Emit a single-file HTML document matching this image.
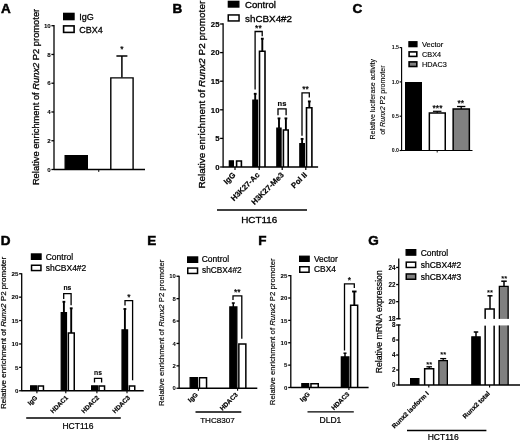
<!DOCTYPE html>
<html><head><meta charset="utf-8"><title>Figure</title>
<style>
html,body{margin:0;padding:0;background:#fff;}
svg{display:block;font-family:"Liberation Sans", sans-serif;}
text{fill:#000;stroke:#000;}
</style></head><body>
<svg width="520" height="441" viewBox="0 0 520 441">
<rect x="0" y="0" width="520" height="441" fill="#fff"/>
<text x="0.9" y="12.9" font-size="13.5" font-weight="bold" stroke-width="0.5" text-anchor="start">A</text>
<text x="38.7" y="185.1" font-size="9.34" stroke-width="0.29" text-anchor="start" transform="rotate(-90 38.7 185.1)">Relative enrichment of <tspan font-style="italic">Runx2</tspan> P2 promoter</text>
<line x1="54" y1="25" x2="54" y2="170.05" stroke="#000" stroke-width="1.3"/>
<line x1="51.4" y1="169.5" x2="54" y2="169.5" stroke="#000" stroke-width="1.3"/>
<text x="50.8" y="171.73" font-size="6.2" font-weight="bold" stroke-width="0.05" text-anchor="end">0</text>
<line x1="51.4" y1="140.74" x2="54" y2="140.74" stroke="#000" stroke-width="1.3"/>
<text x="50.8" y="142.97" font-size="6.2" font-weight="bold" stroke-width="0.05" text-anchor="end">2</text>
<line x1="51.4" y1="111.98" x2="54" y2="111.98" stroke="#000" stroke-width="1.3"/>
<text x="50.8" y="114.21" font-size="6.2" font-weight="bold" stroke-width="0.05" text-anchor="end">4</text>
<line x1="51.4" y1="83.22" x2="54" y2="83.22" stroke="#000" stroke-width="1.3"/>
<text x="50.8" y="85.45" font-size="6.2" font-weight="bold" stroke-width="0.05" text-anchor="end">6</text>
<line x1="51.4" y1="54.46" x2="54" y2="54.46" stroke="#000" stroke-width="1.3"/>
<text x="50.8" y="56.69" font-size="6.2" font-weight="bold" stroke-width="0.05" text-anchor="end">8</text>
<line x1="51.4" y1="25.7" x2="54" y2="25.7" stroke="#000" stroke-width="1.3"/>
<text x="50.8" y="27.93" font-size="6.2" font-weight="bold" stroke-width="0.05" text-anchor="end">10</text>
<rect x="63.65" y="13.35" width="10.4" height="6.3" fill="#000" stroke="#000" stroke-width="1.3"/>
<text x="79.2" y="19.8" font-size="9" stroke-width="0.26" text-anchor="start">IgG</text>
<rect x="63.6" y="25.9" width="10.5" height="6.5" fill="#fff" stroke="#000" stroke-width="1.6"/>
<text x="79.2" y="32.9" font-size="9" stroke-width="0.26" text-anchor="start">CBX4</text>
<path d="M65.15 169.5V155.77H87.35V169.5" fill="#000" stroke="#000" stroke-width="1.3"/>
<line x1="121.9" y1="56" x2="121.9" y2="77.5" stroke="#000" stroke-width="1.5"/>
<line x1="116.4" y1="56" x2="127.4" y2="56" stroke="#000" stroke-width="1.5"/>
<path d="M110.8 169.5V77.9H133.1V169.5" fill="#fff" stroke="#000" stroke-width="1.4"/>
<text x="121.9" y="51.92" font-size="8.5" stroke-width="0.22" text-anchor="middle">*</text>
<line x1="54" y1="169.5" x2="145" y2="169.5" stroke="#000" stroke-width="1.3"/>
<line x1="98.75" y1="169.5" x2="98.75" y2="171.9" stroke="#000" stroke-width="1"/>
<text x="172.6" y="13" font-size="13.5" font-weight="bold" stroke-width="0.5" text-anchor="start">B</text>
<text x="205.3" y="188.6" font-size="9.95" stroke-width="0.32" text-anchor="start" transform="rotate(-90 205.3 188.6)">Relative enrichment of <tspan font-style="italic">Runx2</tspan> P2 promoter</text>
<line x1="223.1" y1="23.3" x2="223.1" y2="167.55" stroke="#000" stroke-width="1.3"/>
<line x1="220.1" y1="167" x2="223.1" y2="167" stroke="#000" stroke-width="1.3"/>
<text x="219.5" y="169.81" font-size="7.8" font-weight="bold" stroke-width="0.17" text-anchor="end">0</text>
<line x1="220.1" y1="138.4" x2="223.1" y2="138.4" stroke="#000" stroke-width="1.3"/>
<text x="219.5" y="141.21" font-size="7.8" font-weight="bold" stroke-width="0.17" text-anchor="end">5</text>
<line x1="220.1" y1="109.8" x2="223.1" y2="109.8" stroke="#000" stroke-width="1.3"/>
<text x="219.5" y="112.61" font-size="7.8" font-weight="bold" stroke-width="0.17" text-anchor="end">10</text>
<line x1="220.1" y1="81.2" x2="223.1" y2="81.2" stroke="#000" stroke-width="1.3"/>
<text x="219.5" y="84.01" font-size="7.8" font-weight="bold" stroke-width="0.17" text-anchor="end">15</text>
<line x1="220.1" y1="52.6" x2="223.1" y2="52.6" stroke="#000" stroke-width="1.3"/>
<text x="219.5" y="55.41" font-size="7.8" font-weight="bold" stroke-width="0.17" text-anchor="end">20</text>
<line x1="220.1" y1="24" x2="223.1" y2="24" stroke="#000" stroke-width="1.3"/>
<text x="219.5" y="26.81" font-size="7.8" font-weight="bold" stroke-width="0.17" text-anchor="end">25</text>
<rect x="228.35" y="1.35" width="10.5" height="5.7" fill="#000" stroke="#000" stroke-width="1.3"/>
<text x="245" y="7.6" font-size="9.6" stroke-width="0.31" text-anchor="start">Control</text>
<rect x="228.25" y="14.95" width="10.8" height="6" fill="#fff" stroke="#000" stroke-width="1.5"/>
<text x="245" y="21.6" font-size="9.85" stroke-width="0.32" text-anchor="start">shCBX4#2</text>
<path d="M229.35 167V160.85H233.35V167" fill="#000" stroke="#000" stroke-width="1.3"/>
<path d="M236.6 167V161H241.4V167" fill="#fff" stroke="#000" stroke-width="1.6"/>
<line x1="255.2" y1="93.8" x2="255.2" y2="100" stroke="#000" stroke-width="1.9"/>
<line x1="253.8" y1="93.8" x2="256.6" y2="93.8" stroke="#000" stroke-width="1.9"/>
<path d="M252.85 167V100.25H257.45V167" fill="#000" stroke="#000" stroke-width="1.3"/>
<line x1="262.3" y1="38.7" x2="262.3" y2="51" stroke="#000" stroke-width="1.9"/>
<line x1="260.9" y1="38.7" x2="263.7" y2="38.7" stroke="#000" stroke-width="1.9"/>
<path d="M259.5 167V51.3H265V167" fill="#fff" stroke="#000" stroke-width="1.6"/>
<polyline points="255.1,89.5 255.1,31.5 262.2,31.5 262.2,36.3" fill="none" stroke="#000" stroke-width="1.3"/>
<text x="258.4" y="31.42" font-size="8.5" stroke-width="0.22" text-anchor="middle">**</text>
<line x1="279" y1="118.4" x2="279" y2="128" stroke="#000" stroke-width="1.9"/>
<line x1="277.6" y1="118.4" x2="280.4" y2="118.4" stroke="#000" stroke-width="1.9"/>
<path d="M276.85 167V128.15H281.05V167" fill="#000" stroke="#000" stroke-width="1.3"/>
<line x1="285.9" y1="118.4" x2="285.9" y2="130" stroke="#000" stroke-width="1.9"/>
<line x1="284.5" y1="118.4" x2="287.3" y2="118.4" stroke="#000" stroke-width="1.9"/>
<path d="M283.4 167V130H288.2V167" fill="#fff" stroke="#000" stroke-width="1.6"/>
<polyline points="278,115.3 278,108.9 286.1,108.9 286.1,115.3" fill="none" stroke="#000" stroke-width="1.3"/>
<text x="282" y="105.7" font-size="7.5" font-weight="bold" stroke-width="0.15" text-anchor="middle">ns</text>
<line x1="302.1" y1="138.9" x2="302.1" y2="143" stroke="#000" stroke-width="1.9"/>
<line x1="300.7" y1="138.9" x2="303.5" y2="138.9" stroke="#000" stroke-width="1.9"/>
<path d="M299.85 167V143.55H304.35V167" fill="#000" stroke="#000" stroke-width="1.3"/>
<line x1="309.3" y1="101.4" x2="309.3" y2="108" stroke="#000" stroke-width="1.9"/>
<line x1="307.9" y1="101.4" x2="310.7" y2="101.4" stroke="#000" stroke-width="1.9"/>
<path d="M306.5 167V107.8H311.9V167" fill="#fff" stroke="#000" stroke-width="1.6"/>
<polyline points="302,135.8 302,92.8 309.3,92.8 309.3,97.6" fill="none" stroke="#000" stroke-width="1.3"/>
<text x="305.6" y="92.02" font-size="8.5" stroke-width="0.22" text-anchor="middle">**</text>
<text x="236" y="175.5" font-size="7.8" font-weight="bold" stroke-width="0.17" text-anchor="end" transform="rotate(-45 236 175.5)" style="stroke-width:0.2px">IgG</text>
<text x="260" y="175.5" font-size="7.8" font-weight="bold" stroke-width="0.17" text-anchor="end" transform="rotate(-45 260 175.5)" style="stroke-width:0.2px">H3K27-Ac</text>
<text x="284.3" y="175.5" font-size="7.8" font-weight="bold" stroke-width="0.17" text-anchor="end" transform="rotate(-45 284.3 175.5)" style="stroke-width:0.2px">H3K27-Me3</text>
<text x="307.5" y="175.5" font-size="7.8" font-weight="bold" stroke-width="0.17" text-anchor="end" transform="rotate(-45 307.5 175.5)" style="stroke-width:0.2px">Pol II</text>
<line x1="217" y1="210" x2="307" y2="210" stroke="#000" stroke-width="1.3"/>
<text x="259.2" y="222.7" font-size="9.9" stroke-width="0.32" text-anchor="middle">HCT116</text>
<line x1="223.1" y1="167" x2="318.1" y2="167" stroke="#000" stroke-width="1.3"/>
<line x1="235" y1="167" x2="235" y2="170" stroke="#000" stroke-width="1.2"/>
<line x1="259.2" y1="167" x2="259.2" y2="170" stroke="#000" stroke-width="1.2"/>
<line x1="282.2" y1="167" x2="282.2" y2="170" stroke="#000" stroke-width="1.2"/>
<line x1="305.8" y1="167" x2="305.8" y2="170" stroke="#000" stroke-width="1.2"/>
<text x="352.5" y="13.2" font-size="13.5" font-weight="bold" stroke-width="0.5" text-anchor="start">C</text>
<text x="375.2" y="139.5" font-size="7" stroke-width="0.11" text-anchor="start" transform="rotate(-90 375.2 139.5)">Relative luciferase activity</text>
<text x="384.7" y="134.8" font-size="7.1" stroke-width="0.12" text-anchor="start" transform="rotate(-90 384.7 134.8)">of <tspan font-style="italic">Runx2</tspan> P2 promoter</text>
<line x1="401.6" y1="47.3" x2="401.6" y2="151" stroke="#000" stroke-width="1.15"/>
<line x1="399.6" y1="150.5" x2="401.6" y2="150.5" stroke="#000" stroke-width="1.15"/>
<text x="399" y="152.37" font-size="5.2" font-weight="bold" stroke-width="0" text-anchor="end">0.0</text>
<line x1="399.6" y1="116.2" x2="401.6" y2="116.2" stroke="#000" stroke-width="1.15"/>
<text x="399" y="118.07" font-size="5.2" font-weight="bold" stroke-width="0" text-anchor="end">0.5</text>
<line x1="399.6" y1="81.9" x2="401.6" y2="81.9" stroke="#000" stroke-width="1.15"/>
<text x="399" y="83.77" font-size="5.2" font-weight="bold" stroke-width="0" text-anchor="end">1.0</text>
<line x1="399.6" y1="47.6" x2="401.6" y2="47.6" stroke="#000" stroke-width="1.15"/>
<text x="399" y="49.47" font-size="5.2" font-weight="bold" stroke-width="0" text-anchor="end">1.5</text>
<rect x="408.95" y="41.75" width="8" height="4.9" fill="#000" stroke="#000" stroke-width="1.3"/>
<text x="422" y="46.8" font-size="7.5" stroke-width="0.15" text-anchor="start">Vector</text>
<rect x="409.1" y="51.9" width="7.7" height="4.5" fill="#fff" stroke="#000" stroke-width="1.6"/>
<text x="422" y="56.6" font-size="7.3" stroke-width="0.13" text-anchor="start">CBX4</text>
<rect x="409.1" y="61.9" width="7.7" height="4.6" fill="#808080" stroke="#000" stroke-width="1.6"/>
<text x="422" y="66.8" font-size="7.3" stroke-width="0.13" text-anchor="start">HDAC3</text>
<path d="M405.65 150.5V82.65H421.35V150.5" fill="#000" stroke="#000" stroke-width="1.3"/>
<line x1="437.2" y1="111.3" x2="437.2" y2="113" stroke="#000" stroke-width="1.2"/>
<line x1="432.95" y1="111.3" x2="441.45" y2="111.3" stroke="#000" stroke-width="1.2"/>
<path d="M429.35 150.5V112.95H445.25V150.5" fill="#fff" stroke="#000" stroke-width="1.5"/>
<line x1="461.2" y1="106.5" x2="461.2" y2="109" stroke="#000" stroke-width="1.3"/>
<line x1="457.05" y1="106.5" x2="465.35" y2="106.5" stroke="#000" stroke-width="1.3"/>
<path d="M453.15 150.5V108.95H469.35V150.5" fill="#808080" stroke="#000" stroke-width="1.5"/>
<text x="437.5" y="111.42" font-size="8.5" stroke-width="0.22" text-anchor="middle">***</text>
<text x="460.8" y="106.42" font-size="8.5" stroke-width="0.22" text-anchor="middle">**</text>
<line x1="401.6" y1="150.5" x2="472.5" y2="150.5" stroke="#000" stroke-width="1.15"/>
<line x1="437.2" y1="150.5" x2="437.2" y2="152.5" stroke="#000" stroke-width="0.9"/>
<text x="0.8" y="244.7" font-size="13.5" font-weight="bold" stroke-width="0.5" text-anchor="start">D</text>
<text x="6.4" y="409" font-size="8.06" stroke-width="0.19" text-anchor="start" transform="rotate(-90 6.4 409)">Relative enrichment of <tspan font-style="italic">Runx2</tspan> P2 promoter</text>
<line x1="21.7" y1="273.2" x2="21.7" y2="391.25" stroke="#000" stroke-width="1.3"/>
<line x1="19.1" y1="390.75" x2="21.7" y2="390.75" stroke="#000" stroke-width="1.3"/>
<text x="18.5" y="392.98" font-size="6.2" font-weight="bold" stroke-width="0.05" text-anchor="end">0</text>
<line x1="19.1" y1="367.35" x2="21.7" y2="367.35" stroke="#000" stroke-width="1.3"/>
<text x="18.5" y="369.58" font-size="6.2" font-weight="bold" stroke-width="0.05" text-anchor="end">5</text>
<line x1="19.1" y1="343.95" x2="21.7" y2="343.95" stroke="#000" stroke-width="1.3"/>
<text x="18.5" y="346.18" font-size="6.2" font-weight="bold" stroke-width="0.05" text-anchor="end">10</text>
<line x1="19.1" y1="320.55" x2="21.7" y2="320.55" stroke="#000" stroke-width="1.3"/>
<text x="18.5" y="322.78" font-size="6.2" font-weight="bold" stroke-width="0.05" text-anchor="end">15</text>
<line x1="19.1" y1="297.15" x2="21.7" y2="297.15" stroke="#000" stroke-width="1.3"/>
<text x="18.5" y="299.38" font-size="6.2" font-weight="bold" stroke-width="0.05" text-anchor="end">20</text>
<line x1="19.1" y1="273.75" x2="21.7" y2="273.75" stroke="#000" stroke-width="1.3"/>
<text x="18.5" y="275.98" font-size="6.2" font-weight="bold" stroke-width="0.05" text-anchor="end">25</text>
<rect x="31.45" y="253.95" width="9.6" height="5.4" fill="#000" stroke="#000" stroke-width="1.3"/>
<text x="45.7" y="259.8" font-size="8.5" stroke-width="0.22" text-anchor="start">Control</text>
<rect x="31.55" y="265.25" width="9.4" height="5.3" fill="#fff" stroke="#000" stroke-width="1.5"/>
<text x="45.7" y="271.1" font-size="8.5" stroke-width="0.22" text-anchor="start">shCBX4#2</text>
<path d="M30.65 390.75V385.78H36.55V390.75" fill="#000" stroke="#000" stroke-width="1.3"/>
<path d="M38.15 390.75V385.88H43.45V390.75" fill="#fff" stroke="#000" stroke-width="1.5"/>
<line x1="63.9" y1="301.8" x2="63.9" y2="313" stroke="#000" stroke-width="1.9"/>
<line x1="62.5" y1="301.8" x2="65.3" y2="301.8" stroke="#000" stroke-width="1.9"/>
<path d="M61.25 390.75V312.65H66.45V390.75" fill="#000" stroke="#000" stroke-width="1.3"/>
<line x1="71.2" y1="308.3" x2="71.2" y2="333" stroke="#000" stroke-width="1.9"/>
<line x1="69.8" y1="308.3" x2="72.6" y2="308.3" stroke="#000" stroke-width="1.9"/>
<path d="M68.35 390.75V333.05H74.25V390.75" fill="#fff" stroke="#000" stroke-width="1.5"/>
<polyline points="63.7,299 63.7,293.6 71.1,293.6 71.1,305.2" fill="none" stroke="#000" stroke-width="1.3"/>
<text x="67.4" y="289.7" font-size="6.8" font-weight="bold" stroke-width="0.1" text-anchor="middle">ns</text>
<path d="M91.65 390.75V385.78H97.45V390.75" fill="#000" stroke="#000" stroke-width="1.3"/>
<path d="M99.05 390.75V385.88H104.55V390.75" fill="#fff" stroke="#000" stroke-width="1.5"/>
<polyline points="94.5,382.4 94.5,378.4 101.6,378.4 101.6,382.4" fill="none" stroke="#000" stroke-width="1.3"/>
<text x="98" y="375.1" font-size="6.8" font-weight="bold" stroke-width="0.1" text-anchor="middle">ns</text>
<line x1="124.9" y1="309" x2="124.9" y2="330" stroke="#000" stroke-width="1.9"/>
<line x1="123.5" y1="309" x2="126.3" y2="309" stroke="#000" stroke-width="1.9"/>
<path d="M122.05 390.75V329.85H127.55V390.75" fill="#000" stroke="#000" stroke-width="1.3"/>
<path d="M129.35 390.75V385.88H134.75V390.75" fill="#fff" stroke="#000" stroke-width="1.5"/>
<polyline points="125,305.5 125,300.6 132.6,300.6 132.6,380.3" fill="none" stroke="#000" stroke-width="1.3"/>
<text x="128.8" y="300.02" font-size="8.5" stroke-width="0.22" text-anchor="middle">*</text>
<text x="37.8" y="398.2" font-size="6.4" font-weight="bold" stroke-width="0.07" text-anchor="end" transform="rotate(-45 37.8 398.2)" style="stroke-width:0.2px">IgG</text>
<text x="68.5" y="398.2" font-size="6.4" font-weight="bold" stroke-width="0.07" text-anchor="end" transform="rotate(-45 68.5 398.2)" style="stroke-width:0.2px">HDAC1</text>
<text x="99.5" y="398.2" font-size="6.4" font-weight="bold" stroke-width="0.07" text-anchor="end" transform="rotate(-45 99.5 398.2)" style="stroke-width:0.2px">HDAC2</text>
<text x="130.5" y="398.2" font-size="6.4" font-weight="bold" stroke-width="0.07" text-anchor="end" transform="rotate(-45 130.5 398.2)" style="stroke-width:0.2px">HDAC3</text>
<line x1="26.2" y1="418" x2="120.8" y2="418" stroke="#000" stroke-width="1.3"/>
<text x="78" y="428.8" font-size="8.5" stroke-width="0.22" text-anchor="middle">HCT116</text>
<line x1="21.8" y1="390.75" x2="143.75" y2="390.75" stroke="#000" stroke-width="1.3"/>
<line x1="36.9" y1="390.75" x2="36.9" y2="393.35" stroke="#000" stroke-width="1.1"/>
<line x1="65.8" y1="390.75" x2="65.8" y2="393.35" stroke="#000" stroke-width="1.1"/>
<line x1="96.9" y1="390.75" x2="96.9" y2="393.35" stroke="#000" stroke-width="1.1"/>
<line x1="127" y1="390.75" x2="127" y2="393.35" stroke="#000" stroke-width="1.1"/>
<text x="147.2" y="244.9" font-size="13.5" font-weight="bold" stroke-width="0.5" text-anchor="start">E</text>
<text x="164.1" y="406.1" font-size="7.75" stroke-width="0.17" text-anchor="start" transform="rotate(-90 164.1 406.1)">Relative enrichment of <tspan font-style="italic">Runx2</tspan> P2 promoter</text>
<line x1="179.1" y1="275.8" x2="179.1" y2="388.75" stroke="#000" stroke-width="1.3"/>
<line x1="176.5" y1="388.25" x2="179.1" y2="388.25" stroke="#000" stroke-width="1.3"/>
<text x="175.9" y="390.37" font-size="5.9" font-weight="bold" stroke-width="0.03" text-anchor="end">0</text>
<line x1="176.5" y1="365.85" x2="179.1" y2="365.85" stroke="#000" stroke-width="1.3"/>
<text x="175.9" y="367.97" font-size="5.9" font-weight="bold" stroke-width="0.03" text-anchor="end">2</text>
<line x1="176.5" y1="343.45" x2="179.1" y2="343.45" stroke="#000" stroke-width="1.3"/>
<text x="175.9" y="345.57" font-size="5.9" font-weight="bold" stroke-width="0.03" text-anchor="end">4</text>
<line x1="176.5" y1="321.05" x2="179.1" y2="321.05" stroke="#000" stroke-width="1.3"/>
<text x="175.9" y="323.17" font-size="5.9" font-weight="bold" stroke-width="0.03" text-anchor="end">6</text>
<line x1="176.5" y1="298.65" x2="179.1" y2="298.65" stroke="#000" stroke-width="1.3"/>
<text x="175.9" y="300.77" font-size="5.9" font-weight="bold" stroke-width="0.03" text-anchor="end">8</text>
<line x1="176.5" y1="276.25" x2="179.1" y2="276.25" stroke="#000" stroke-width="1.3"/>
<text x="175.9" y="278.37" font-size="5.9" font-weight="bold" stroke-width="0.03" text-anchor="end">10</text>
<rect x="187.65" y="256.95" width="10" height="5.4" fill="#000" stroke="#000" stroke-width="1.3"/>
<text x="201.7" y="262.4" font-size="8.5" stroke-width="0.22" text-anchor="start">Control</text>
<rect x="187.75" y="268.05" width="9.8" height="5.4" fill="#fff" stroke="#000" stroke-width="1.5"/>
<text x="202" y="273.3" font-size="8.3" stroke-width="0.21" text-anchor="start">shCBX4#2</text>
<path d="M190.15 388.25V377.7H197.35V388.25" fill="#000" stroke="#000" stroke-width="1.3"/>
<path d="M199.45 388.25V377.8H206.55V388.25" fill="#fff" stroke="#000" stroke-width="1.5"/>
<line x1="233.3" y1="303" x2="233.3" y2="307" stroke="#000" stroke-width="1.5"/>
<line x1="231.8" y1="303" x2="234.8" y2="303" stroke="#000" stroke-width="1.5"/>
<path d="M229.85 388.25V306.95H236.85V388.25" fill="#000" stroke="#000" stroke-width="1.3"/>
<path d="M238.85 388.25V343.95H245.85V388.25" fill="#fff" stroke="#000" stroke-width="1.5"/>
<polyline points="233,300 233,295.8 241.8,295.8 241.8,338.8" fill="none" stroke="#000" stroke-width="1.3"/>
<text x="237.2" y="295.42" font-size="8.5" stroke-width="0.22" text-anchor="middle">**</text>
<text x="198.3" y="395.2" font-size="6.5" font-weight="bold" stroke-width="0.07" text-anchor="end" transform="rotate(-45 198.3 395.2)" style="stroke-width:0.2px">IgG</text>
<text x="238.3" y="395.2" font-size="6.5" font-weight="bold" stroke-width="0.07" text-anchor="end" transform="rotate(-45 238.3 395.2)" style="stroke-width:0.2px">HDAC3</text>
<line x1="195.5" y1="412" x2="241.3" y2="412" stroke="#000" stroke-width="1.3"/>
<text x="217.5" y="423" font-size="8.1" stroke-width="0.19" text-anchor="middle">THC8307</text>
<line x1="179.1" y1="388.25" x2="257.3" y2="388.25" stroke="#000" stroke-width="1.3"/>
<line x1="198.4" y1="388.25" x2="198.4" y2="390.85" stroke="#000" stroke-width="1.1"/>
<line x1="237.6" y1="388.25" x2="237.6" y2="390.85" stroke="#000" stroke-width="1.1"/>
<text x="258.3" y="245" font-size="13.5" font-weight="bold" stroke-width="0.5" text-anchor="start">F</text>
<text x="275.5" y="405.2" font-size="7.78" stroke-width="0.17" text-anchor="start" transform="rotate(-90 275.5 405.2)">Relative enrichment of <tspan font-style="italic">Runx2</tspan> P2 promoter</text>
<line x1="290.8" y1="275" x2="290.8" y2="388" stroke="#000" stroke-width="1.3"/>
<line x1="288.2" y1="387.5" x2="290.8" y2="387.5" stroke="#000" stroke-width="1.3"/>
<text x="287.3" y="389.7" font-size="6.1" font-weight="bold" stroke-width="0.04" text-anchor="end">0</text>
<line x1="288.2" y1="365.12" x2="290.8" y2="365.12" stroke="#000" stroke-width="1.3"/>
<text x="287.3" y="367.32" font-size="6.1" font-weight="bold" stroke-width="0.04" text-anchor="end">5</text>
<line x1="288.2" y1="342.75" x2="290.8" y2="342.75" stroke="#000" stroke-width="1.3"/>
<text x="287.3" y="344.95" font-size="6.1" font-weight="bold" stroke-width="0.04" text-anchor="end">10</text>
<line x1="288.2" y1="320.38" x2="290.8" y2="320.38" stroke="#000" stroke-width="1.3"/>
<text x="287.3" y="322.57" font-size="6.1" font-weight="bold" stroke-width="0.04" text-anchor="end">15</text>
<line x1="288.2" y1="298" x2="290.8" y2="298" stroke="#000" stroke-width="1.3"/>
<text x="287.3" y="300.2" font-size="6.1" font-weight="bold" stroke-width="0.04" text-anchor="end">20</text>
<line x1="288.2" y1="275.62" x2="290.8" y2="275.62" stroke="#000" stroke-width="1.3"/>
<text x="287.3" y="277.82" font-size="6.1" font-weight="bold" stroke-width="0.04" text-anchor="end">25</text>
<rect x="299.65" y="256.25" width="9.5" height="5.1" fill="#000" stroke="#000" stroke-width="1.3"/>
<text x="314" y="261.7" font-size="8.4" stroke-width="0.22" text-anchor="start">Vector</text>
<rect x="299.75" y="266.75" width="9.3" height="5.5" fill="#fff" stroke="#000" stroke-width="1.5"/>
<text x="314" y="272.1" font-size="8.4" stroke-width="0.22" text-anchor="start">CBX4</text>
<path d="M301.85 387.5V383.67H308.65V387.5" fill="#000" stroke="#000" stroke-width="1.3"/>
<path d="M310.95 387.5V383.77H318.25V387.5" fill="#fff" stroke="#000" stroke-width="1.5"/>
<line x1="345" y1="353.2" x2="345" y2="357" stroke="#000" stroke-width="1.5"/>
<line x1="343.5" y1="353.2" x2="346.5" y2="353.2" stroke="#000" stroke-width="1.5"/>
<path d="M341.35 387.5V356.95H348.85V387.5" fill="#000" stroke="#000" stroke-width="1.3"/>
<line x1="354.3" y1="291.5" x2="354.3" y2="305" stroke="#000" stroke-width="1.9"/>
<line x1="352.05" y1="291.5" x2="356.55" y2="291.5" stroke="#000" stroke-width="1.9"/>
<path d="M350.65 387.5V305.25H357.65V387.5" fill="#fff" stroke="#000" stroke-width="1.5"/>
<polyline points="344.5,350.6 344.5,283.8 354.3,283.8 354.3,288" fill="none" stroke="#000" stroke-width="1.3"/>
<text x="349.3" y="283.22" font-size="8.5" stroke-width="0.22" text-anchor="middle">*</text>
<text x="310.3" y="394.7" font-size="6.5" font-weight="bold" stroke-width="0.07" text-anchor="end" transform="rotate(-45 310.3 394.7)" style="stroke-width:0.2px">IgG</text>
<text x="349.8" y="394.7" font-size="6.5" font-weight="bold" stroke-width="0.07" text-anchor="end" transform="rotate(-45 349.8 394.7)" style="stroke-width:0.2px">HDAC3</text>
<line x1="307.5" y1="411.8" x2="353.8" y2="411.8" stroke="#000" stroke-width="1.3"/>
<text x="330.4" y="423" font-size="8.5" stroke-width="0.22" text-anchor="middle">DLD1</text>
<line x1="290.8" y1="387.5" x2="368.6" y2="387.5" stroke="#000" stroke-width="1.3"/>
<line x1="309.4" y1="387.5" x2="309.4" y2="390.1" stroke="#000" stroke-width="1.1"/>
<line x1="348.9" y1="387.5" x2="348.9" y2="390.1" stroke="#000" stroke-width="1.1"/>
<text x="368.2" y="245" font-size="13.5" font-weight="bold" stroke-width="0.5" text-anchor="start">G</text>
<text x="382.1" y="373.2" font-size="8.66" stroke-width="0.24" text-anchor="start" transform="rotate(-90 382.1 373.2)">Relative mRNA expression</text>
<line x1="398.75" y1="258.5" x2="398.75" y2="319.25" stroke="#000" stroke-width="1.3"/>
<line x1="396.15" y1="318.75" x2="400.55" y2="318.75" stroke="#000" stroke-width="1.3"/>
<text x="395.55" y="321.05" font-size="6.3" font-weight="bold" stroke-width="0.06" text-anchor="end">18</text>
<line x1="396.15" y1="301.65" x2="398.75" y2="301.65" stroke="#000" stroke-width="1.3"/>
<text x="395.55" y="303.95" font-size="6.3" font-weight="bold" stroke-width="0.06" text-anchor="end">20</text>
<line x1="396.15" y1="284.55" x2="398.75" y2="284.55" stroke="#000" stroke-width="1.3"/>
<text x="395.55" y="286.85" font-size="6.3" font-weight="bold" stroke-width="0.06" text-anchor="end">22</text>
<line x1="396.15" y1="267.45" x2="398.75" y2="267.45" stroke="#000" stroke-width="1.3"/>
<text x="395.55" y="269.75" font-size="6.3" font-weight="bold" stroke-width="0.06" text-anchor="end">24</text>
<line x1="398.75" y1="324.5" x2="398.75" y2="385.5" stroke="#000" stroke-width="1.3"/>
<line x1="396.15" y1="385" x2="398.75" y2="385" stroke="#000" stroke-width="1.3"/>
<text x="395.55" y="387.3" font-size="6.3" font-weight="bold" stroke-width="0.06" text-anchor="end">0</text>
<line x1="396.15" y1="370" x2="398.75" y2="370" stroke="#000" stroke-width="1.3"/>
<text x="395.55" y="372.3" font-size="6.3" font-weight="bold" stroke-width="0.06" text-anchor="end">2</text>
<line x1="396.15" y1="355" x2="398.75" y2="355" stroke="#000" stroke-width="1.3"/>
<text x="395.55" y="357.3" font-size="6.3" font-weight="bold" stroke-width="0.06" text-anchor="end">4</text>
<line x1="396.15" y1="340" x2="398.75" y2="340" stroke="#000" stroke-width="1.3"/>
<text x="395.55" y="342.3" font-size="6.3" font-weight="bold" stroke-width="0.06" text-anchor="end">6</text>
<line x1="396.15" y1="325" x2="400.55" y2="325" stroke="#000" stroke-width="1.3"/>
<text x="395.55" y="327.3" font-size="6.3" font-weight="bold" stroke-width="0.06" text-anchor="end">8</text>
<rect x="406.15" y="249.65" width="9.6" height="5.5" fill="#000" stroke="#000" stroke-width="1.3"/>
<text x="420.7" y="255.6" font-size="8.5" stroke-width="0.22" text-anchor="start">Control</text>
<rect x="406.25" y="262.15" width="9.4" height="5.3" fill="#fff" stroke="#000" stroke-width="1.5"/>
<text x="420.7" y="268" font-size="8.5" stroke-width="0.22" text-anchor="start">shCBX4#2</text>
<rect x="406.25" y="273.95" width="9.4" height="5.3" fill="#808080" stroke="#000" stroke-width="1.5"/>
<text x="420.7" y="280" font-size="8.5" stroke-width="0.22" text-anchor="start">shCBX4#3</text>
<path d="M410.65 385V378.65H418.85V385" fill="#000" stroke="#000" stroke-width="1.3"/>
<line x1="429.2" y1="366.8" x2="429.2" y2="369" stroke="#000" stroke-width="1.3"/>
<line x1="426.45" y1="366.8" x2="431.95" y2="366.8" stroke="#000" stroke-width="1.3"/>
<path d="M424.65 385V368.75H433.65V385" fill="#fff" stroke="#000" stroke-width="1.5"/>
<line x1="443.2" y1="358.6" x2="443.2" y2="361" stroke="#000" stroke-width="1.3"/>
<line x1="440.2" y1="358.6" x2="446.2" y2="358.6" stroke="#000" stroke-width="1.3"/>
<path d="M438.85 385V360.65H447.35V385" fill="#808080" stroke="#000" stroke-width="1.3"/>
<text x="429.3" y="367.15" font-size="7.6" stroke-width="0.16" text-anchor="middle">**</text>
<text x="443.3" y="357.15" font-size="7.6" stroke-width="0.16" text-anchor="middle">**</text>
<line x1="476" y1="332" x2="476" y2="337" stroke="#000" stroke-width="1.5"/>
<line x1="473.75" y1="332" x2="478.25" y2="332" stroke="#000" stroke-width="1.5"/>
<path d="M471.85 385V336.85H480.15V385" fill="#000" stroke="#000" stroke-width="1.3"/>
<path d="M485.15 385V321.75H494.15V385" fill="#fff" stroke="#000" stroke-width="1.5"/>
<rect x="484" y="318.9" width="26" height="6.5" fill="#fff"/>
<line x1="490" y1="295.8" x2="490" y2="309" stroke="#000" stroke-width="1.5"/>
<line x1="487.5" y1="295.8" x2="492.5" y2="295.8" stroke="#000" stroke-width="1.5"/>
<path d="M485.15 319.05V309.05H494.15V319.05" fill="#fff" stroke="#000" stroke-width="1.5"/>
<path d="M499.35 385V321.65H508.15V385" fill="#808080" stroke="#000" stroke-width="1.3"/>
<line x1="504" y1="281.2" x2="504" y2="286" stroke="#000" stroke-width="1.5"/>
<line x1="501.25" y1="281.2" x2="506.75" y2="281.2" stroke="#000" stroke-width="1.5"/>
<path d="M499.35 319.05V286.45H508.15V319.05" fill="#808080" stroke="#000" stroke-width="1.3"/>
<rect x="484" y="318.9" width="26" height="6.5" fill="#fff"/>
<text x="490" y="294.95" font-size="7.6" stroke-width="0.16" text-anchor="middle">**</text>
<text x="504.3" y="280.75" font-size="7.6" stroke-width="0.16" text-anchor="middle">**</text>
<text x="429.3" y="394" font-size="6.5" font-weight="bold" stroke-width="0.07" text-anchor="end" transform="rotate(-45 429.3 394)" style="stroke-width:0.2px">Runx2 isoform I</text>
<text x="490.4" y="394" font-size="6.5" font-weight="bold" stroke-width="0.07" text-anchor="end" transform="rotate(-45 490.4 394)" style="stroke-width:0.2px">Runx2 total</text>
<line x1="407" y1="430.5" x2="486.4" y2="430.5" stroke="#000" stroke-width="1.3"/>
<text x="443.2" y="440.2" font-size="8.5" stroke-width="0.22" text-anchor="middle">HCT116</text>
<line x1="398.75" y1="385" x2="520" y2="385" stroke="#000" stroke-width="1.3"/>
<line x1="428.8" y1="385" x2="428.8" y2="387.6" stroke="#000" stroke-width="1.1"/>
<line x1="489.6" y1="385" x2="489.6" y2="387.6" stroke="#000" stroke-width="1.1"/>
</svg>
</body></html>
